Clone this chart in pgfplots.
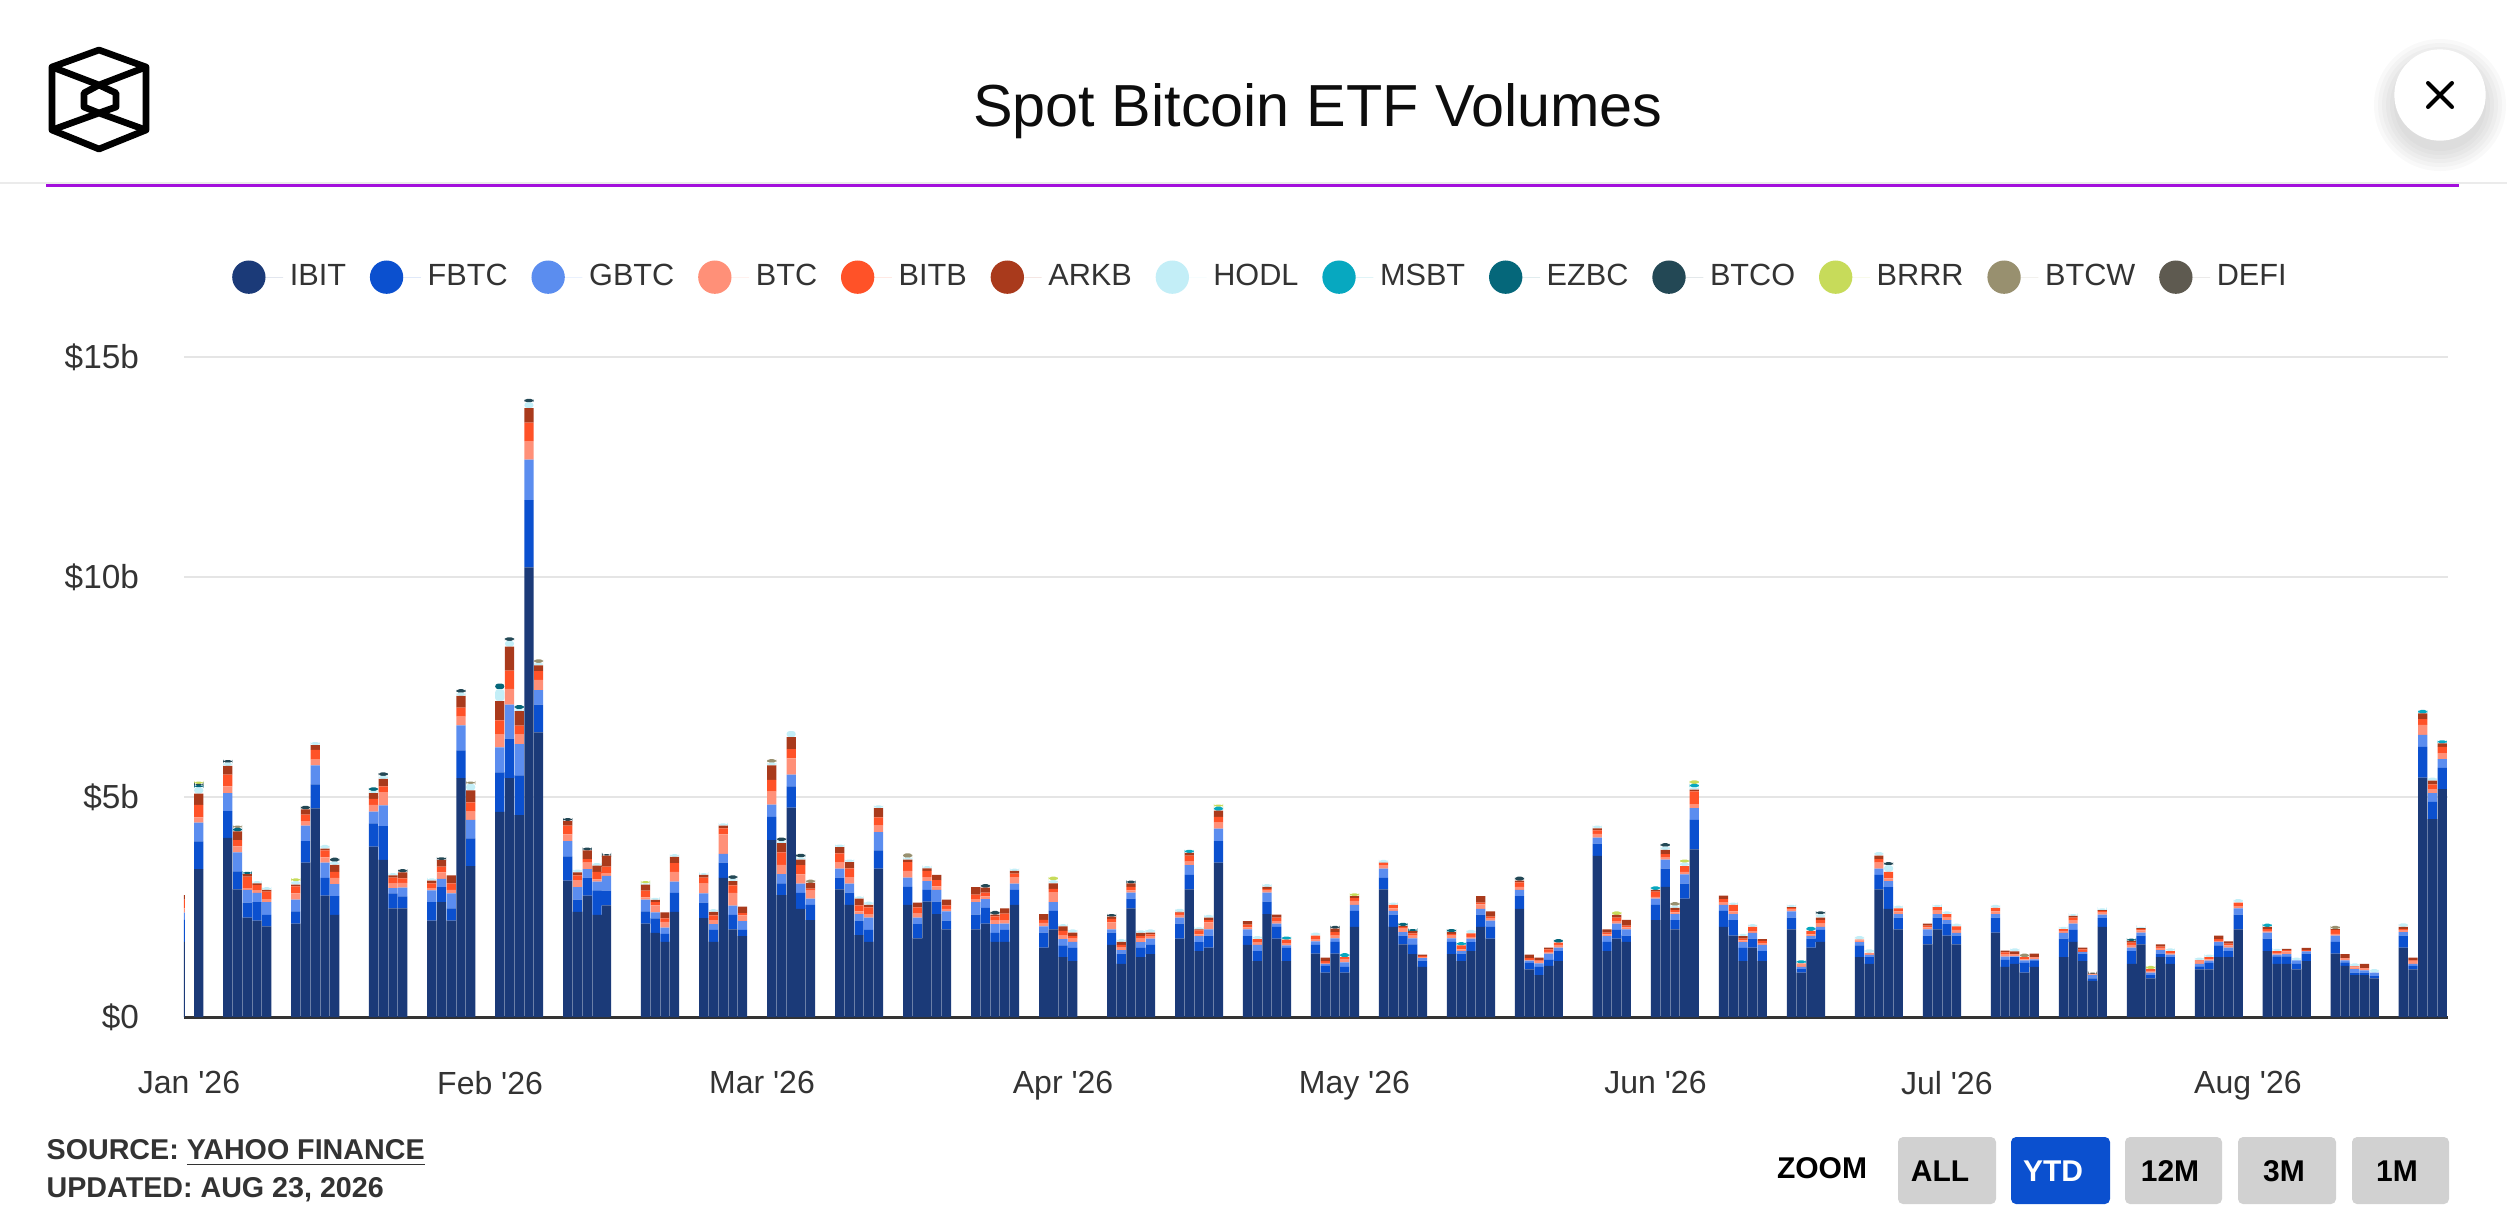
\documentclass[border=0pt]{standalone}
\usepackage{fontspec}
\setmainfont{Liberation Sans}[Ligatures=TeXOff]
\usepackage{pgfplots}
\usepackage{pgfplotstable}
\pgfplotsset{compat=1.18}

\definecolor{cIBIT}{HTML}{1B3A78}
\definecolor{cFBTC}{HTML}{0B50CF}
\definecolor{cGBTC}{HTML}{5B8DEF}
\definecolor{cBTC}{HTML}{FF9078}
\definecolor{cBITB}{HTML}{FF5228}
\definecolor{cARKB}{HTML}{A93A1C}
\definecolor{cHODL}{HTML}{C3EEF7}
\definecolor{cMSBT}{HTML}{07A8C0}
\definecolor{cEZBC}{HTML}{05677A}
\definecolor{cBTCO}{HTML}{234855}
\definecolor{cBRRR}{HTML}{C7DB5A}
\definecolor{cBTCW}{HTML}{98906F}
\definecolor{cDEFI}{HTML}{5E5A50}
\definecolor{txt}{HTML}{333333}
\newcommand{\ap}{\symbol{39}}

% day of year, then volume in $b per fund
\pgfplotstableread{
d IBIT FBTC GBTC BTC BITB ARKB HODL MSBT EZBC BTCO BRRR BTCW DEFI
0.1 1.71 .50 .16 .10 .20 .10 0 0 0 0 0 0 0
2 3.36 .63 .43 .12 .28 .26 .14 0 .05 .03 .05 0 0
5 4.07 .61 .41 .15 .27 .20 .07 0 0 .06 0 0 0
6 2.90 .41 .43 .14 .14 .20 0 0 .08 0 0 .05 0
7 2.26 .34 .29 .04 .26 .06 0 0 .05 0 0 0 0
8 2.19 .42 .21 .05 .13 .04 .05 0 0 0 0 0 0
9 2.06 .26 .29 .06 .18 .04 .06 0 0 0 0 0 0
12 2.12 .28 .27 .14 .16 .04 .08 0 0 0 .06 0 0
13 3.51 .49 .35 .10 .15 .12 0 0 0 .08 0 0 0
14 4.74 .55 .43 .13 .22 .11 .07 0 0 0 0 0 0
15 2.76 .40 .35 .12 .16 .04 .08 0 0 0 0 0 0
16 2.32 .43 .27 .14 .14 .16 .07 0 0 .09 0 0 0
20 3.87 .53 .27 .15 .14 .13 .05 0 .08 0 0 0 0
21 3.57 .77 .47 .30 .13 .17 .07 0 0 .08 0 0 0
22 2.47 .34 .12 .10 .14 .05 .05 0 0 0 0 0 0
23 2.47 .27 .20 .11 .10 .14 0 0 0 .07 0 0 0
26 2.19 .42 .27 .04 .12 .06 .05 0 0 0 0 0 0
27 2.61 .34 .19 .15 .13 .15 0 0 0 .06 0 0 0
28 2.19 .28 .34 .08 .15 .18 0 0 0 0 0 0 0
29 5.43 .63 .57 .20 .20 .27 .07 0 0 .08 0 0 0
30 3.43 .63 .42 .19 .21 .27 .15 0 0 0 0 .05 0
33 4.66 .90 .57 .29 .32 .44 .27 0 .13 0 0 0 0
34 5.43 .90 .77 .36 .41 .55 .13 0 0 .08 0 0 0
35 4.59 .90 .71 .22 .20 .33 .05 0 .09 0 0 0 0
36 10.22 1.53 .92 .42 .42 .33 .13 0 0 .08 0 0 0
37 6.47 .63 .33 .23 .20 .13 .06 0 0 0 0 .08 0
40 3.10 .55 .35 .15 .20 .11 0 0 0 .06 0 0 0
41 2.39 .28 .28 .16 .11 .07 .06 0 0 0 0 0 0
42 2.76 .41 .19 .15 .08 .20 0 0 0 .06 0 0 0
43 2.32 .56 .20 .05 .17 .14 .06 0 0 0 0 0 0
44 2.54 .33 .34 .06 .15 .25 0 0 0 .03 0 0 0
48 2.12 .28 .27 .05 .15 .14 .03 0 0 0 .05 0 0
49 1.91 .33 .14 .16 .07 .05 .05 0 0 0 0 0 0
50 1.71 .18 .14 .13 .08 .14 0 0 0 0 0 0 0
51 2.39 .43 .26 .22 .20 .14 .06 0 0 0 0 0 0
54 2.25 .35 .21 .22 .14 .06 .04 0 0 0 0 0 0
55 1.71 .27 .13 .09 .11 .08 .06 0 0 0 0 0 0
56 3.16 .35 .20 .44 .14 .06 .05 0 0 0 0 0 0
57 1.99 .33 .21 .29 .17 .10 .05 0 0 .08 0 0 0
58 1.84 .14 .20 .13 .05 .15 0 0 0 0 0 0 0
61 4.02 .53 .28 .29 .27 .33 .06 0 0 0 0 .08 0
62 2.77 .27 .21 .21 .28 .21 .05 0 0 .08 0 0 0
63 4.76 .48 .27 .37 .21 .27 .14 0 0 0 0 0 0
64 2.46 .36 .21 .21 .21 .13 .05 0 0 .08 0 0 0
65 2.20 .35 .14 .18 .05 .13 0 0 0 0 0 .07 0
68 2.90 .27 .20 .15 .20 .14 .06 0 0 0 0 0 0
69 2.55 .28 .20 .15 .20 .14 .06 0 0 0 0 0 0
70 1.86 .33 .15 .06 .14 .15 .05 0 0 0 0 0 0
71 1.71 .27 .28 .08 .15 .06 .07 0 0 0 0 0 0
72 3.37 .42 .41 .15 .19 .21 .06 0 0 0 0 0 0
75 2.55 .41 .21 .15 .20 .06 .04 0 0 0 0 .10 0
76 1.79 .32 .15 .09 .14 .11 0 0 0 0 0 0 0
77 2.62 .27 .20 .09 .14 .06 .05 0 0 0 0 0 0
78 2.34 .28 .27 .08 .14 .12 0 0 0 0 0 0 0
79 1.99 .20 .21 .06 .08 .13 0 0 0 0 0 0 0
82 1.99 .34 .28 .06 .11 .17 0 0 0 0 0 0 0
83 2.12 .36 .20 .06 .09 .11 0 0 0 .08 0 0 0
84 1.71 .20 .20 .08 .10 .04 0 0 0 .08 0 0 0
85 1.71 .27 .14 .08 .15 .12 0 0 0 0 0 0 0
86 2.55 .34 .14 .15 .08 .06 .05 0 0 0 0 0 0
89 1.58 .34 .14 .08 .07 .13 0 0 0 0 0 0 0
90 1.99 .42 .20 .23 .07 .13 .07 0 0 0 .08 0 0
91 1.36 .27 .14 .08 .11 .10 .05 0 0 0 0 0 0
92 1.27 .30 .14 .07 .06 .08 .07 0 0 0 0 0 0
96 1.64 .28 .07 .16 .08 .05 0 0 0 .06 0 0 0
97 1.21 .23 .08 .06 .06 .07 .06 0 0 0 0 0 0
98 2.47 .22 .14 .05 .08 .08 0 0 0 .06 0 0 0
99 1.36 .21 .13 .08 .06 .07 .06 0 0 0 0 0 0
100 1.43 .21 .14 .06 .04 .04 .07 0 0 0 0 0 0
103 1.78 .34 .14 .06 .05 .02 .07 0 0 0 0 0 0
104 2.90 .33 .22 .08 .14 .06 0 .07 0 0 0 0 0
105 1.50 .20 .14 .04 .09 .02 .05 0 0 0 0 0 0
106 1.58 .27 .14 .16 .05 .06 .06 0 0 0 0 0 0
107 3.51 .49 .28 .14 .13 .14 0 .09 0 0 .05 0 0
110 1.64 .20 .15 .05 .06 .08 0 0 0 0 0 0 0
111 1.27 .23 .14 .05 .08 0 .07 0 0 0 0 0 0
112 2.34 .28 .21 .04 .04 .05 .06 0 0 0 0 0 0
113 1.78 .27 .07 .06 .08 .07 0 0 0 0 0 0 0
114 1.27 .30 .06 .05 .08 0 0 .07 0 0 0 0 0
117 1.44 .20 .08 .05 .08 0 .07 0 0 0 0 0 0
118 1.01 .15 .05 .02 .04 .08 0 0 0 0 0 0 0
119 1.44 .27 .08 .06 .08 .08 0 0 0 .06 0 0 0
120 1.01 .13 .10 .08 .04 0 0 .09 0 0 0 0 0
121 2.05 .36 .14 .09 .06 .05 0 0 0 0 .06 0 0
124 2.90 .26 .21 .08 .05 .01 .06 0 0 0 0 0 0
125 2.05 .28 .08 .06 .08 0 .05 0 0 0 0 0 0
126 1.65 .20 .08 .08 .04 .02 0 0 .07 0 0 0 0
127 1.43 .22 .14 .06 .05 .05 0 0 .05 0 0 0 0
128 1.14 .14 .06 .02 .03 .03 0 0 0 0 0 0 0
131 1.43 .28 .08 .06 .04 .04 0 0 .07 0 0 0 0
132 1.27 .17 .06 .04 .09 0 0 .07 0 0 0 0 0
133 1.50 .20 .08 .04 .08 0 .08 0 0 0 0 0 0
134 2.05 .28 .13 .10 .04 .15 0 0 0 0 0 0 0
135 1.78 .27 .14 .06 .03 .12 0 0 0 0 0 0 0
138 2.46 .29 .14 .07 .10 .04 0 0 0 .09 0 0 0
139 1.08 .15 .05 .02 .04 .08 0 0 0 0 0 0 0
140 .95 .19 .08 .04 .03 .06 0 0 0 0 0 0 0
141 1.16 .14 .14 .04 .06 .04 0 0 0 0 0 0 0
142 1.27 .23 .08 .06 .05 0 0 0 .08 0 0 0 0
146 3.66 .28 .14 .08 .08 .05 .06 0 0 0 0 0 0
147 1.50 .21 .13 .04 .04 .07 0 0 0 0 0 0 0
148 1.78 .20 .14 .06 .08 .06 0 0 0 0 .08 0 0
149 1.71 .14 .14 .05 .04 .13 0 0 0 0 0 0 0
152 2.20 .35 .14 .04 .12 .04 0 .08 0 0 0 0 0
153 2.96 .41 .21 .04 .08 .10 .07 0 0 .08 0 0 0
154 1.99 .21 .14 .04 .05 .05 .05 0 0 0 0 .08 0
155 2.69 .34 .21 .06 .13 0 .08 0 0 0 .07 0 0
156 3.81 .67 .27 .09 .29 .04 .05 .08 0 0 .08 0 0
159 2.05 .36 .14 .05 .08 .08 0 0 0 0 0 0 0
160 1.85 .35 .14 .06 .15 0 .05 0 0 0 0 0 0
161 1.27 .30 .13 .04 .04 .06 .05 0 0 0 0 0 0
162 1.58 .20 .13 .03 .11 0 .06 0 0 0 0 0 0
163 1.27 .23 .14 .03 .06 .04 0 0 0 0 0 0 0
166 1.99 .27 .14 .04 .04 .02 .05 0 0 0 0 0 0
167 1.01 .08 .05 .08 0 0 0 .07 0 0 0 0 0
168 1.58 .20 .06 .04 .08 0 0 .09 0 0 0 0 0
169 1.71 .27 .07 .07 .08 .06 .08 0 0 .06 0 0 0
173 1.36 .27 .07 .04 .02 0 .08 0 0 0 0 0 0
174 1.21 .15 .05 .05 0 0 .08 0 0 0 0 0 0
175 2.90 .33 .14 .14 .08 .08 .08 0 0 0 0 0 0
176 2.46 .49 .14 .06 .15 0 .15 0 0 .07 0 0 0
177 1.99 .27 .08 .06 .07 0 .06 0 0 0 0 0 0
180 1.65 .20 .14 .05 .04 .04 0 0 0 0 0 0 0
181 1.99 .27 .08 .08 .08 0 .05 0 0 0 0 0 0
182 1.85 .27 .08 .06 .08 0 .06 0 0 0 0 0 0
183 1.65 .20 .06 .07 .08 0 .06 0 0 0 0 0 0
187 1.92 .34 .08 .06 .08 0 .07 0 0 0 0 0 0
188 1.14 .16 .07 .06 .04 .04 0 0 0 0 0 0 0
189 1.21 .15 .02 .05 0 .06 .07 0 0 0 0 0 0
190 1.01 .22 .06 .02 .05 0 0 0 0 0 0 .08 0
191 1.14 .15 .02 .05 0 .08 0 0 0 0 0 0 0
194 1.36 .42 .13 .05 .04 0 .05 0 0 0 0 0 0
195 1.71 .27 .14 .08 .06 .04 .04 0 0 0 0 0 0
196 1.27 .17 .04 0 .06 .04 0 0 0 0 0 0 0
197 .82 .06 .07 .02 .01 0 0 0 0 0 0 0 .03
198 2.05 .20 .08 .04 .04 .02 .04 0 0 0 0 0 0
201 1.21 .29 .08 .06 .05 .04 0 0 .05 0 0 0 0
202 1.65 .20 .07 .05 .03 .02 .03 0 0 0 0 0 0
203 .88 .07 .06 .04 .04 0 0 0 0 0 .07 0 0
204 1.36 .08 .08 .05 .03 .05 0 0 0 0 0 0 0
205 1.21 .15 .06 .02 .06 0 .06 0 0 0 0 0 0
208 1.08 .07 .06 .05 .03 0 .06 0 0 0 0 0 0
209 1.08 .15 .05 .03 .05 0 .06 0 0 0 0 0 0
210 1.36 .27 .08 .02 .04 .08 0 0 0 0 0 0 0
211 1.36 .14 .08 .05 .04 .05 0 0 0 0 0 0 0
212 1.99 .34 .14 .05 .08 0 .08 0 0 0 0 0 0
215 1.50 .28 .14 .04 .04 .05 0 .07 0 0 0 0 0
216 1.21 .17 .04 .02 .06 0 .05 0 0 0 0 0 0
217 1.21 .17 .05 .06 .03 .03 0 0 0 0 0 0 0
218 1.08 .13 .08 0 0 0 .06 0 0 0 0 0 0
219 1.27 .17 .05 0 .03 .05 0 0 0 0 0 0 0
222 1.44 .27 .14 .04 .09 .02 0 0 0 0 0 .07 0
223 1.16 .08 .05 .05 0 .09 0 0 0 0 0 0 0
224 .95 .06 .08 .04 .02 0 .07 0 0 0 0 0 0
225 .95 .06 .05 .05 0 .10 0 0 0 0 0 0 0
226 .88 .05 .08 0 0 0 .08 0 0 0 0 0 0
229 1.58 .27 .08 .05 .02 .05 .08 0 0 0 0 0 0
230 1.08 .08 .05 .05 .03 .06 0 0 0 0 0 0 0
231 5.44 .70 .27 .23 .13 .13 0 .08 0 0 0 0 0
232 4.50 .39 .20 .09 .11 .08 .07 0 0 0 0 0 0
233 5.18 .48 .20 .14 .14 .08 0 .07 0 0 0 0 0
}\volumes

\begin{document}
\begin{tikzpicture}[x=0.3pt,y=-0.3pt]
\path[use as bounding box] (0,0) rectangle (2507,1230);

\begin{axis}[
  at={(55.2pt,-305.1pt)},anchor=origin,
  scale only axis,width=679.2pt,height=198pt,
  ybar stacked,bar width=0.95,
  xmin=0.485,xmax=233.6,ymin=0,ymax=15,
  axis x line=bottom,axis y line=left,
  x axis line style={draw=txt,line width=0.9pt,-},
  y axis line style={draw=none},
  major tick length=0pt,
  ytick={0,5,10,15},yticklabels={\$0,\$5b,\$10b,\$15b},
  xtick={1,32,60,91,121,152,182,213},
  xticklabels={Jan \ap26,Feb \ap26,Mar \ap26,Apr \ap26,May \ap26,Jun \ap26,Jul \ap26,Aug \ap26},
  xticklabel style={font=\fontsize{9.6}{11}\selectfont,text=txt},
  yticklabel style={font=\fontsize{10}{11}\selectfont,text=txt},
  xticklabel shift=12.8pt,yticklabel shift=10pt,
  ymajorgrids,grid style={draw=black!10,line width=0.5pt},
  every axis plot/.append style={draw=none,bar shift=0pt},
  cap/.style={rounded corners=0.9pt},
  legend image code/.code={\fill[#1] (0pt,0pt) circle (5pt);\path (0pt,0pt) -- (10.3pt,0pt);},
  legend cell align=left,
  legend style={at={(0.4765,1.121)},anchor=center,draw=none,fill=none,
    legend columns=13,font=\fontsize{9.2}{11}\selectfont\color{txt},
    /tikz/every even column/.append style={column sep=5.15pt}},
]
\addplot[fill=cIBIT] table[x=d,y=IBIT] {\volumes};
\addplot[fill=cFBTC] table[x=d,y=FBTC] {\volumes};
\addplot[fill=cGBTC] table[x=d,y=GBTC] {\volumes};
\addplot[fill=cBTC] table[x=d,y=BTC] {\volumes};
\addplot[fill=cBITB] table[x=d,y=BITB] {\volumes};
\addplot[fill=cARKB] table[x=d,y=ARKB] {\volumes};
\addplot[fill=cHODL,cap] table[x=d,y=HODL] {\volumes};
\addplot[fill=cMSBT,cap] table[x=d,y=MSBT] {\volumes};
\addplot[fill=cEZBC,cap] table[x=d,y=EZBC] {\volumes};
\addplot[fill=cBTCO,cap] table[x=d,y=BTCO] {\volumes};
\addplot[fill=cBRRR,cap] table[x=d,y=BRRR] {\volumes};
\addplot[fill=cBTCW,cap] table[x=d,y=BTCW] {\volumes};
\addplot[fill=cDEFI,cap] table[x=d,y=DEFI] {\volumes};
\legend{IBIT,FBTC,GBTC,BTC,BITB,ARKB,HODL,MSBT,EZBC,BTCO,BRRR,BTCW,DEFI}
\end{axis}

% header
\draw[black!8,line width=0.5pt] (0,183) -- (2507,183);
\draw[draw={rgb,255:red,163;green,15;blue,220},line width=0.9pt] (46,185) -- (2459,185);
\node[font=\fontsize{17.8}{20}\selectfont,text=black!95] at (1318,111) {Spot Bitcoin ETF Volumes};

% logo
\begin{scope}[line width=2pt,line join=round,draw=black]
\draw (99,50)--(146,67)--(146,130)--(99,149)--(52,130)--(52,67)--cycle;
\draw (99,85)--(116,93)--(116,107)--(99,113)--(84,107)--(84,93)--cycle;
\draw (52,67)--(99,85)--(146,67);
\draw (52,130)--(99,113)--(146,130);
\end{scope}

% close button
\foreach \r in {66,62,58,54,50,46}{\fill[black,opacity=0.025] (2440,105) circle[radius=\r*0.3pt];}
\fill[white] (2440,95) circle[radius=13.7pt];
\draw[black,line width=1.2pt,line cap=round] (2428,83)--(2452,107) (2452,83)--(2428,107);

% footer
\node[anchor=west,inner sep=0pt,font=\fontsize{8.6}{11}\selectfont\bfseries,text=txt] at (46,1153) {SOURCE: \underline{YAHOO FINANCE}};
\node[anchor=west,inner sep=0pt,font=\fontsize{8.6}{11}\selectfont\bfseries,text=txt] at (46,1190) {UPDATED: AUG 23, 2026};
\node[font=\fontsize{9}{11}\selectfont\bfseries,text=black] at (1822,1168) {ZOOM};
\foreach \a/\b/\c/\t in {1898/1996/1940/ALL,2125/2222/2170/12M,2238/2336/2284/3M,2352/2449/2397/1M}{
  \fill[black!18,rounded corners=1.5pt] (\a,1137) rectangle (\b,1204);
  \node[font=\fontsize{9}{11}\selectfont\bfseries,text=black] at (\c,1171) {\t};
}
\fill[cFBTC,rounded corners=1.5pt] (2011,1137) rectangle (2110,1204);
\node[font=\fontsize{9}{11}\selectfont\bfseries,text=white] at (2053,1171) {YTD};
\end{tikzpicture}
\end{document}
